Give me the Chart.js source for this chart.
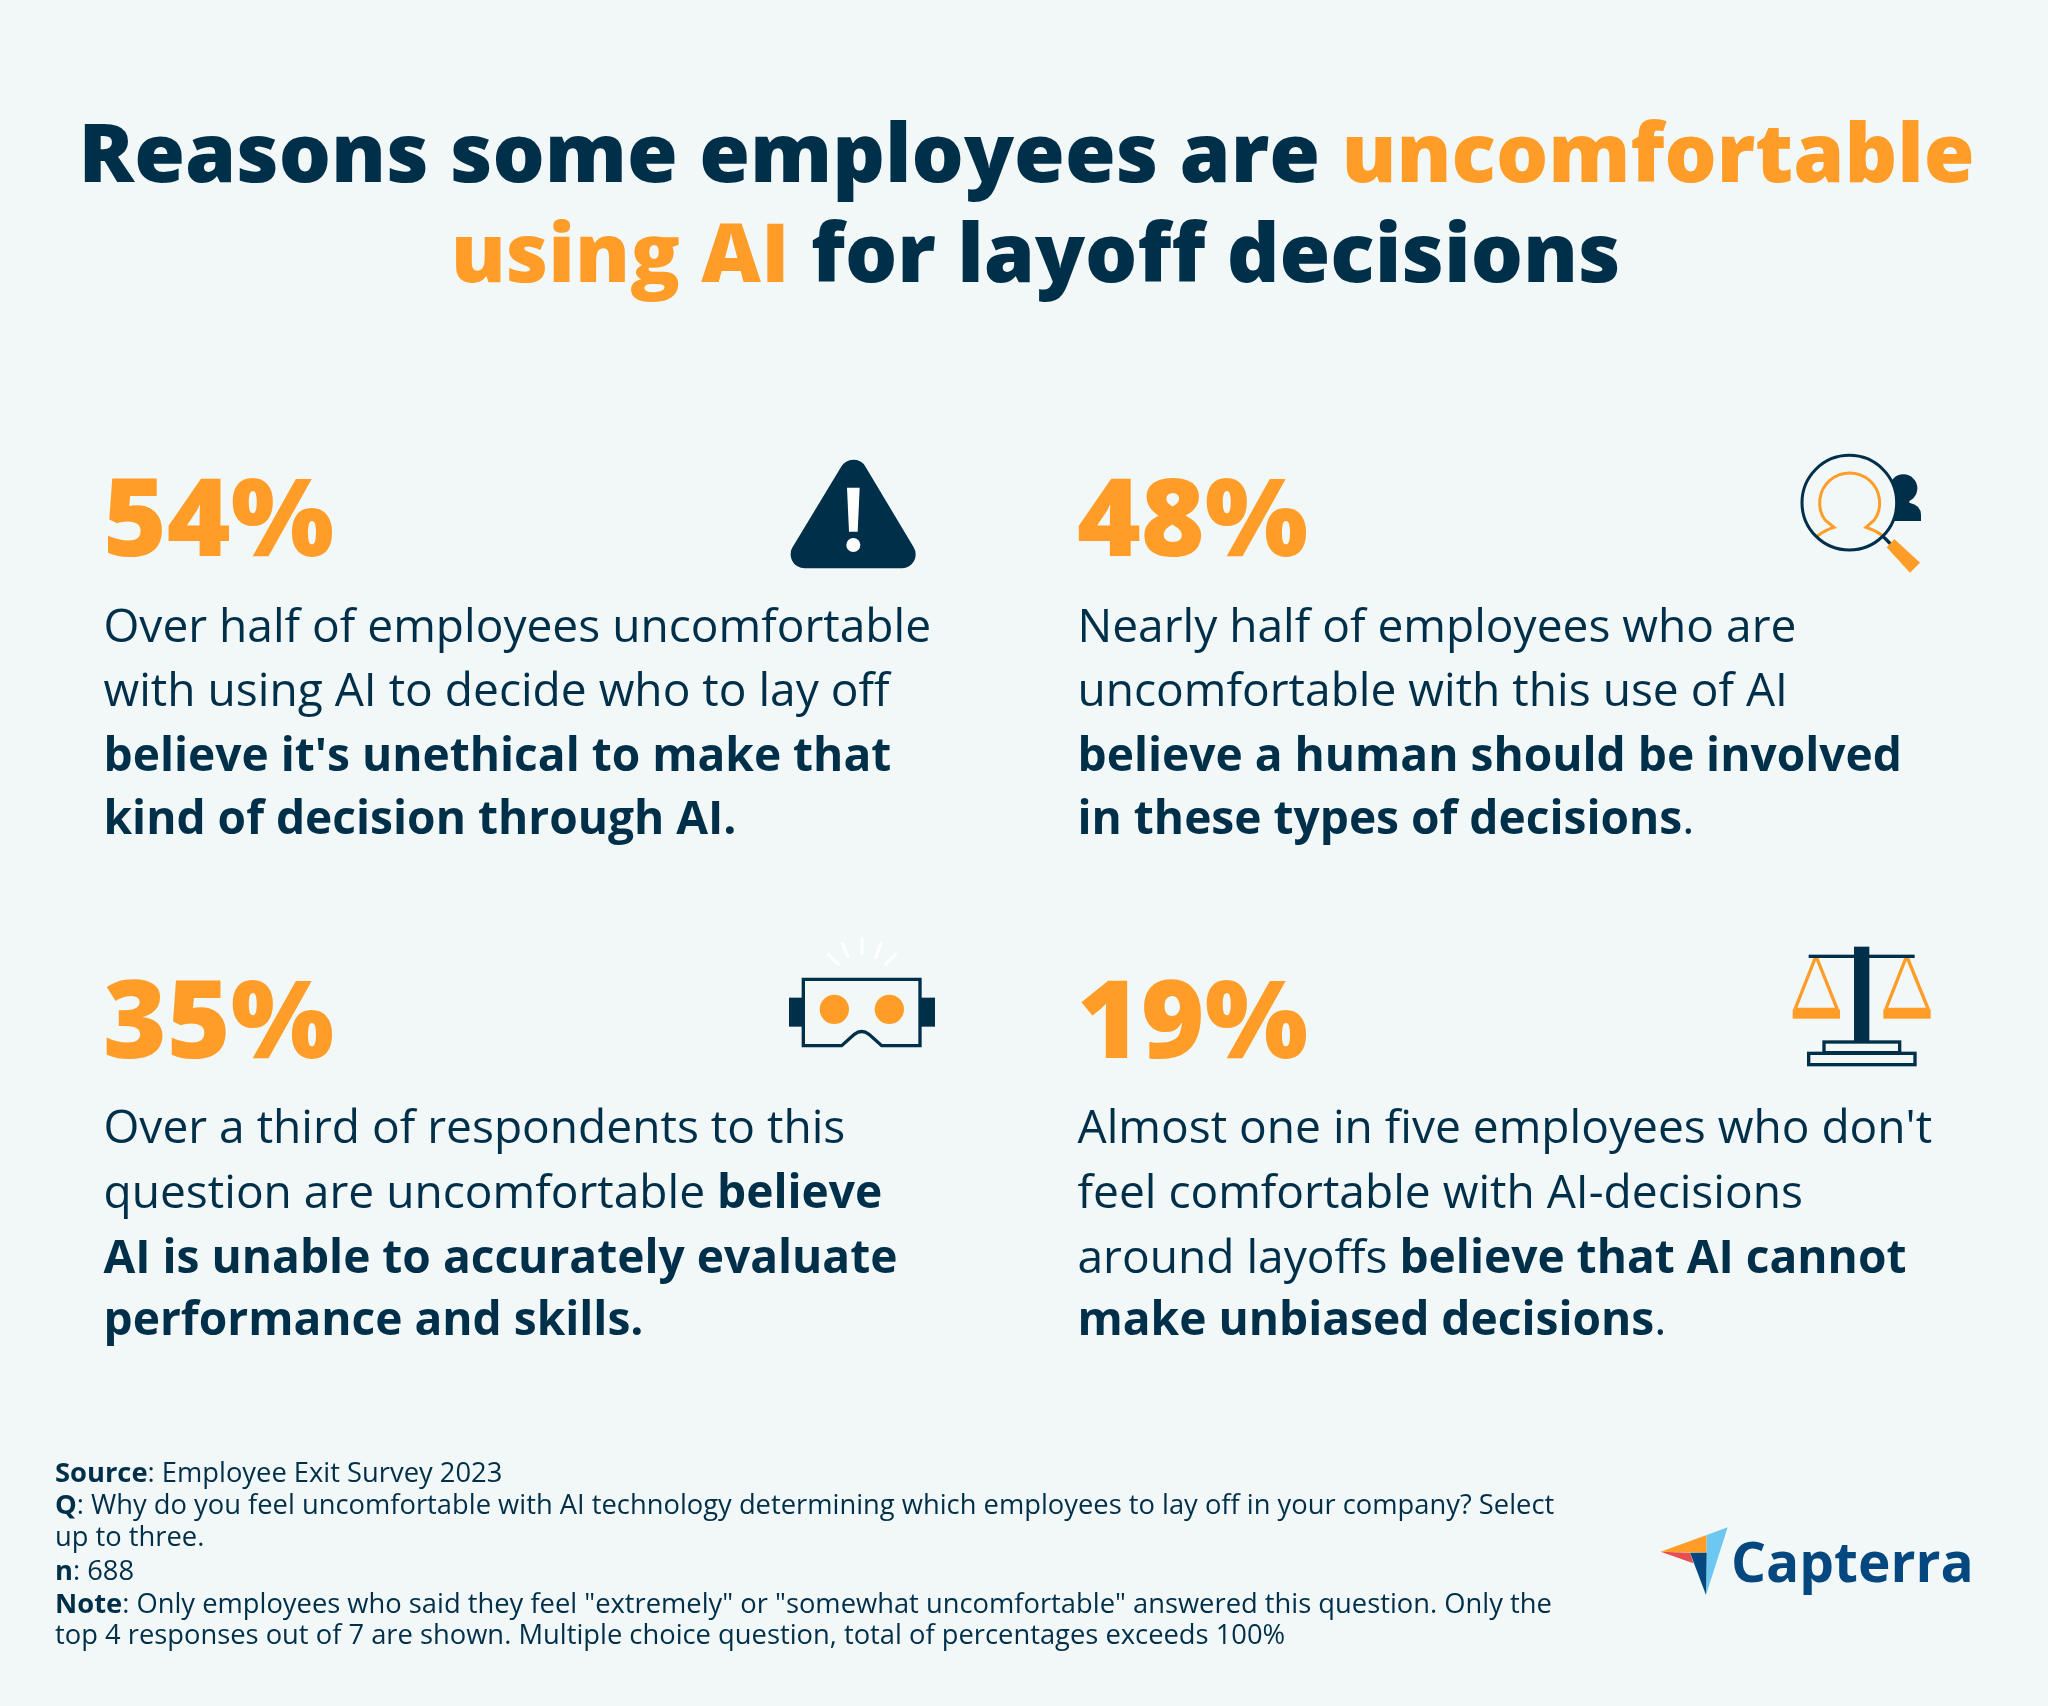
<!DOCTYPE html>
<html><head><meta charset="utf-8">
<style>
html,body{margin:0;padding:0;background:#f2f7f7;width:2048px;height:1706px;overflow:hidden}
#wrap{position:relative;width:2048px;height:1706px}
canvas{position:absolute;left:0;top:0}
.ln{position:absolute;white-space:pre;font-family:"Open Sans",sans-serif;color:#002f4a;line-height:normal}
</style>
<script src="https://cdn.jsdelivr.net/npm/chart.js@4"></script>
</head><body><div id="wrap"><canvas id="c" width="2048" height="1706"></canvas></div>
<script>
const columns=['Left','Right'];
const rows=['Top','Bottom'];
const values=[54,48,35,19];
const valueColumns=['Left','Right','Left','Right'];
const valueRows=['Top','Top','Bottom','Bottom'];
const titleLines=[
 [["Reasons some employees are ",0],["uncomfortable",1]],
 [["using AI",1],[" for layoff decisions",0]]
];
const bodies=[
 [[["Over half of employees uncomfortable",0]],[["with using AI to decide who to lay off",0]],[["believe it's unethical to make that",1]],[["kind of decision through AI.",1]]],
 [[["Nearly half of employees who are",0]],[["uncomfortable with this use of AI",0]],[["believe a human should be involved",1]],[["in these types of decisions",1],[".",0]]],
 [[["Over a third of respondents to this",0]],[["question are uncomfortable ",0],["believe",1]],[["AI is unable to accurately evaluate",1]],[["performance and skills.",1]]],
 [[["Almost one in five employees who don't",0]],[["feel comfortable with AI-decisions",0]],[["around layoffs ",0],["believe that AI cannot",1]],[["make unbiased decisions",1],[".",0]]]
];
const footLines=[
 [["Source",1],[": Employee Exit Survey 2023",0]],
 [["Q",1],[": Why do you feel uncomfortable with AI technology determining which employees to lay off in your company? Select",0]],
 [["up to three.",0]],
 [["n",1],[": 688",0]],
 [["Note",1],[": Only employees who said they feel \"extremely\" or \"somewhat uncomfortable\" answered this question. Only the",0]],
 [["top 4 responses out of 7 are shown. Multiple choice question, total of percentages exceeds 100%",0]]
];
const brand="Capterra";

const NAVY='#002f4a',ORANGE='#ff9d28',BG='#f2f7f7';
const wrap=document.getElementById('wrap');
function addLine(segs,x,base,fs,opt){
  opt=opt||{};
  const d=document.createElement('div');d.className='ln';
  d.style.fontSize=fs+'px';
  d.style.top=(base-1.069*fs)+'px';
  if(opt.center!==undefined){d.style.left=opt.center+'px';d.style.transform='translateX(-50%)';}
  else d.style.left=x+'px';
  segs.forEach(s=>{const sp=document.createElement('span');sp.textContent=s[0];
    sp.style.fontWeight=s[1]?(opt.bold||700):(opt.normal||400);
    sp.style.color=(opt.accent&&s[1])?ORANGE:(opt.color||NAVY);
    if(opt.accent)sp.style.fontWeight=opt.bold;
    d.appendChild(sp);});
  wrap.appendChild(d);
}
titleLines.forEach((l,i)=>addLine(l,0,[182,282][i],82.2,{center:[1026.6,1035.7][i],accent:true,bold:800}));
const bodyX=[103.5,1077.5],bodyBase=[[642,706,771,834],[1143,1208,1273,1335]];
bodies.forEach((b,i)=>b.forEach((l,j)=>addLine(l,bodyX[i%2],bodyBase[i>>1][j],46.1,{})));
footLines.forEach((l,i)=>addLine(l,55,[1482,1514,1546,1580,1613,1644.5][i],27.33,{}));
addLine([[brand,1]],1731,1582,55,{bold:700,color:'#04487f'});

function iconAt(ctx,ox,oy,fn){ctx.save();ctx.translate(ox,oy);ctx.scale(1/3,1/3);fn(ctx);ctx.restore();}
function poly(ctx,pts,fill){ctx.beginPath();pts.forEach((p,i)=>i?ctx.lineTo(p[0],p[1]):ctx.moveTo(p[0],p[1]));ctx.closePath();ctx.fillStyle=fill;ctx.fill();}
function stroke(ctx,d,col,w,cap,join){ctx.strokeStyle=col;ctx.lineWidth=w;ctx.lineCap=cap||'butt';ctx.lineJoin=join||'miter';ctx.stroke(new Path2D(d));}
function rect(ctx,x0,y0,x1,y1,c){ctx.fillStyle=c;ctx.fillRect(x0,y0,x1-x0,y1-y0);}
function disc(ctx,x,y,r,c){ctx.fillStyle=c;ctx.beginPath();ctx.arc(x,y,r,0,Math.PI*2);ctx.fill();}

const decoration={id:'decoration',afterDatasetsDraw(chart){
  const ctx=chart.ctx;
  iconAt(ctx,760,440,c=>{
    c.beginPath();c.moveTo(280,101);c.lineTo(134,343);c.lineTo(425,343);c.closePath();
    c.fillStyle=NAVY;c.strokeStyle=NAVY;c.lineWidth=84;c.lineJoin='round';c.fill();c.stroke();
    poly(c,[[261,143],[299,143],[293,275],[267,275]],'#ffffff');
    disc(c,280,315,21,'#ffffff');
  });
  iconAt(ctx,1780,440,c=>{
    disc(c,370,145,42,NAVY);
    c.fillStyle=NAVY;c.fill(new Path2D('M330 243 L330 170 L388 170 L388 188 Q423 195 423 225 L423 243 Z'));
    disc(c,208,188,143,BG);
    stroke(c,'M309 289 L338 318',NAVY,10);
    poly(c,[[343,297],[420,368],[390,398],[320,322]],ORANGE);
    stroke(c,'M112 288 Q135 270 162 262 L135 240 A90 90 0 1 1 283 240 L258 262 Q285 270 310 288',ORANGE,9);
    c.strokeStyle=NAVY;c.lineWidth=9;c.beginPath();c.arc(208,188,142,0,Math.PI*2);c.stroke();
  });
  iconAt(ctx,770,920,c=>{
    rect(c,57,233,100,320,NAVY);rect(c,450,233,495,320,NAVY);
    stroke(c,'M100 178 L450 178 L450 377 L335 377 L297 343 Q275 326 253 343 L215 377 L100 377 Z',NAVY,10);
    disc(c,193,268,44,ORANGE);disc(c,358,268,44,ORANGE);
    [[175,103,205,133],[218,72,233,110],[276,57,276,100],[333,72,317,112],[377,103,347,133]].forEach(r=>
      stroke(c,`M${r[0]} ${r[1]} L${r[2]} ${r[3]}`,'#ffffff',10,'round'));
  });
  iconAt(ctx,1780,930,c=>{
    stroke(c,'M108 78 L45 238 L172 238 Z',ORANGE,10,'butt','bevel');
    stroke(c,'M380 78 L317 238 L445 238 Z',ORANGE,10,'butt','bevel');
    rect(c,38,238,180,266,ORANGE);rect(c,310,238,452,266,ORANGE);
    rect(c,86,74,404,84,NAVY);rect(c,222,50,268,335,NAVY);
    c.strokeStyle=NAVY;c.lineWidth=10;c.lineCap='butt';c.lineJoin='miter';
    c.strokeRect(132,336,227,32);c.strokeRect(86,370,319,34);
  });
  iconAt(ctx,1640,1510,c=>{
    poly(c,[[62,125],[200,75],[200,128]],ORANGE);
    poly(c,[[200,75],[263,52],[198,255],[200,128]],'#6cc8f0');
    poly(c,[[62,125],[150,128],[160,160]],'#e8504f');
    poly(c,[[150,128],[200,128],[198,255]],'#04487f');
  });
}};
const valueLabels={id:'valueLabels',afterDatasetsDraw(chart){
  const ctx=chart.ctx,meta=chart.getDatasetMeta(0);
  ctx.save();ctx.font='800 109px "Open Sans"';ctx.fillStyle=ORANGE;ctx.textAlign='left';ctx.textBaseline='alphabetic';
  meta.data.forEach((pt,i)=>ctx.fillText(values[i]+'%',pt.x,pt.y));
  ctx.restore();
}};
function start(){
new Chart(document.getElementById('c'),{
  type:'scatter',
  data:{datasets:[{data:values.map((v,i)=>({x:valueColumns[i],y:valueRows[i]})),pointRadius:0,pointHoverRadius:0}]},
  options:{responsive:false,animation:false,devicePixelRatio:1,
    layout:{padding:{left:103,right:971,top:556,bottom:648}},
    plugins:{legend:{display:false},tooltip:{enabled:false}},
    scales:{
      x:{type:'category',labels:columns,display:false,offset:false},
      y:{type:'category',labels:rows,display:false,offset:false}
    }},
  plugins:[decoration,valueLabels]
});
}
(document.fonts&&document.fonts.load?Promise.all([document.fonts.load('800 109px "Open Sans"'),document.fonts.ready]):Promise.resolve()).then(start,start);
</script></body></html>
